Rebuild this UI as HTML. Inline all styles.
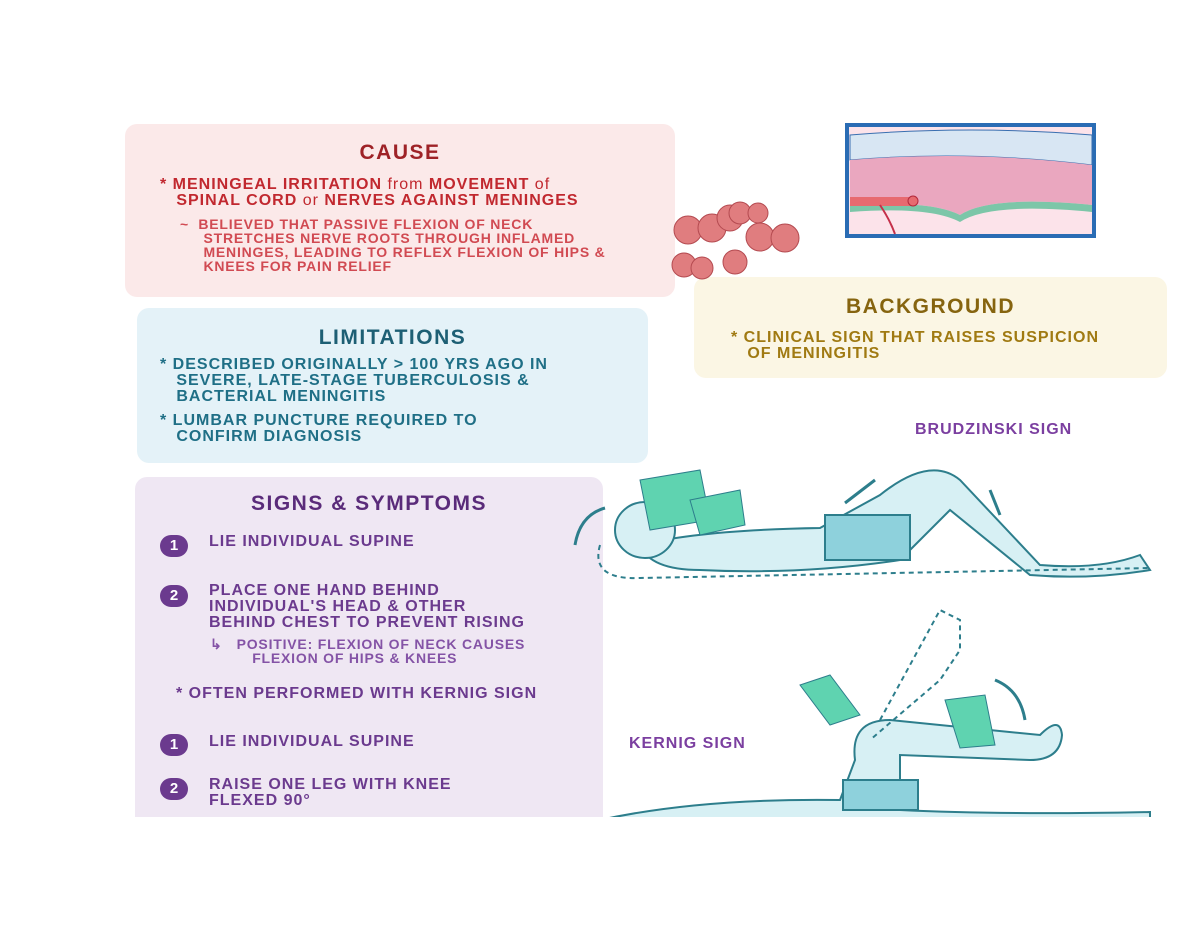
<!DOCTYPE html>
<html><head><style>
body{margin:0;width:1200px;height:927px;background:#fff;position:relative;overflow:hidden;font-family:"Liberation Sans",sans-serif;font-weight:bold;}
.box{position:absolute;border-radius:12px;}
.t{position:absolute;font-size:16px;line-height:16px;text-transform:uppercase;letter-spacing:1px;}
.h{position:absolute;font-size:21px;letter-spacing:1.5px;text-align:center;}
.n{position:absolute;width:28px;height:22px;border-radius:11px;background:#6b3a8e;color:#fff;font-size:15px;text-align:center;line-height:22px;}
</style></head><body>
<div class="box" style="left:125px;top:124px;width:550px;height:173px;background:#fbe9e9"></div>
<div class="h" style="left:125px;top:141px;width:550px;color:#9e2227">CAUSE</div>
<div class="t" style="left:160px;top:177px;color:#c1282f">* Meningeal irritation <span style="font-weight:normal;text-transform:none">from</span> movement <span style="font-weight:normal;text-transform:none">of</span><br>&nbsp;&nbsp;&nbsp;spinal cord <span style="font-weight:normal;text-transform:none">or</span> nerves against meninges</div>
<div class="t" style="left:180px;top:217px;color:#d14a52;font-size:14px;line-height:14px;letter-spacing:0.8px">~&nbsp;&nbsp;believed that passive flexion of neck<br>&nbsp;&nbsp;&nbsp;&nbsp;&nbsp;stretches nerve roots through inflamed<br>&nbsp;&nbsp;&nbsp;&nbsp;&nbsp;meninges, leading to reflex flexion of hips &amp;<br>&nbsp;&nbsp;&nbsp;&nbsp;&nbsp;knees for pain relief</div>

<div class="box" style="left:137px;top:308px;width:511px;height:155px;background:#e4f2f8"></div>
<div class="h" style="left:137px;top:326px;width:511px;color:#1d5f74">LIMITATIONS</div>
<div class="t" style="left:160px;top:357px;color:#1f6f86">* Described originally &gt; 100 yrs ago in<br>&nbsp;&nbsp;&nbsp;severe, late-stage tuberculosis &amp;<br>&nbsp;&nbsp;&nbsp;bacterial meningitis</div>
<div class="t" style="left:160px;top:413px;color:#1f6f86">* Lumbar puncture required to<br>&nbsp;&nbsp;&nbsp;confirm diagnosis</div>

<div class="box" style="left:135px;top:477px;width:468px;height:360px;background:#efe7f3"></div>
<div class="h" style="left:135px;top:492px;width:468px;color:#5a2b7a">SIGNS &amp; SYMPTOMS</div>
<div class="n" style="left:160px;top:535px">1</div>
<div class="t" style="left:209px;top:534px;color:#6b3a8e">Lie individual supine</div>
<div class="n" style="left:160px;top:585px">2</div>
<div class="t" style="left:209px;top:583px;color:#6b3a8e">Place one hand behind<br>individual's head &amp; other<br>behind chest to prevent rising</div>
<div class="t" style="left:210px;top:637px;color:#8453a6;font-size:14px;line-height:14px;letter-spacing:0.8px">↳&nbsp;&nbsp;&nbsp;positive: flexion of neck causes<br>&nbsp;&nbsp;&nbsp;&nbsp;&nbsp;&nbsp;&nbsp;&nbsp;&nbsp;flexion of hips &amp; knees</div>
<div class="t" style="left:176px;top:686px;color:#6b3a8e">* Often performed with kernig sign</div>
<div class="n" style="left:160px;top:734px">1</div>
<div class="t" style="left:209px;top:734px;color:#6b3a8e">Lie individual supine</div>
<div class="n" style="left:160px;top:778px">2</div>
<div class="t" style="left:209px;top:777px;color:#6b3a8e">Raise one leg with knee<br>flexed 90°</div>

<div class="box" style="left:694px;top:277px;width:473px;height:101px;background:#fbf6e4"></div>
<div class="h" style="left:694px;top:295px;width:473px;color:#86640f">BACKGROUND</div>
<div class="t" style="left:731px;top:330px;color:#a07a12">* Clinical sign that raises suspicion<br>&nbsp;&nbsp;&nbsp;of meningitis</div>

<div style="position:absolute;left:0;top:817px;width:1200px;height:110px;background:#fff;z-index:5"></div>

<svg style="position:absolute;left:0;top:0" width="1200" height="927">
<rect x="847" y="125" width="247" height="111" fill="#fce3ea" stroke="#2a6cb4" stroke-width="4"/>
<path d="M850 135 Q970 125 1092 135 L1092 165 Q970 150 850 160Z" fill="#d8e6f3" stroke="#3a6fb0"/>
<path d="M850 160 Q970 150 1092 165 L1092 205 Q990 195 960 215 Q930 200 850 205Z" fill="#eaa7bf"/>
<path d="M850 205 Q930 200 960 215 Q990 195 1092 205 L1092 212 Q990 202 960 222 Q930 206 850 212Z" fill="#7cc6a8"/>
<rect x="850" y="197" width="63" height="9" fill="#e76a70"/>
<circle cx="913" cy="201" r="5" fill="#e76a70" stroke="#b2283b"/>
<path d="M880 205 Q890 220 895 234" stroke="#c5304a" fill="none" stroke-width="2"/>
<g fill="#e07d7f" stroke="#b44a50">
<circle cx="688" cy="230" r="14"/><circle cx="712" cy="228" r="14"/><circle cx="730" cy="218" r="13"/><circle cx="740" cy="213" r="11"/>
<circle cx="760" cy="237" r="14"/><circle cx="785" cy="238" r="14"/><circle cx="735" cy="262" r="12"/><circle cx="684" cy="265" r="12"/><circle cx="702" cy="268" r="11"/><circle cx="758" cy="213" r="10"/>
</g>
<text x="915" y="434" fill="#7b3fa0" font-family="Liberation Sans" font-weight="bold" font-size="16" letter-spacing="1">BRUDZINSKI SIGN</text>
<text x="629" y="748" fill="#7b3fa0" font-family="Liberation Sans" font-weight="bold" font-size="16" letter-spacing="1">KERNIG SIGN</text>
<g fill="#d7f0f4" stroke="#2d7e8c" stroke-width="2">
<path d="M640 545 Q700 530 820 528 L880 495 Q930 455 960 480 L1040 565 Q1100 570 1140 555 L1150 570 Q1090 580 1030 575 L950 510 L900 560 Q800 575 700 570 Q650 570 640 545Z"/>
<ellipse cx="645" cy="530" rx="30" ry="28"/>
<rect x="825" y="515" width="85" height="45" fill="#8ed1dc"/>
</g>
<path d="M600 545 Q590 580 640 578 L1150 568" stroke="#2d7e8c" stroke-dasharray="5 4" fill="none" stroke-width="2"/>
<path d="M640 480 L700 470 L710 520 L650 530Z" fill="#5fd3b0" stroke="#2d7e8c"/>
<path d="M690 500 L740 490 L745 525 L700 535Z" fill="#5fd3b0" stroke="#2d7e8c"/>
<path d="M575 545 Q580 515 605 508" stroke="#2d7e8c" fill="none" stroke-width="3"/>
<path d="M845 503 L875 480" stroke="#2d7e8c" fill="none" stroke-width="3"/>
<path d="M990 490 L1000 515" stroke="#2d7e8c" fill="none" stroke-width="3"/>
<g fill="#d7f0f4" stroke="#2d7e8c" stroke-width="2">
<path d="M600 820 Q700 798 840 800 L855 760 Q850 720 890 720 L1040 735 Q1060 715 1062 735 Q1060 760 1030 760 L900 755 L900 810 Q1000 815 1150 812 L1150 830 L600 830Z"/>
<rect x="843" y="780" width="75" height="30" fill="#8ed1dc"/>
</g>
<path d="M880 720 L940 610 L960 620 L960 650 L940 680 L870 740" stroke="#2d7e8c" stroke-dasharray="5 4" fill="none" stroke-width="2"/>
<path d="M800 685 L830 675 L860 715 L830 725Z" fill="#5fd3b0" stroke="#2d7e8c"/>
<path d="M945 700 L985 695 L995 745 L960 748Z" fill="#5fd3b0" stroke="#2d7e8c"/>
<path d="M1025 720 Q1020 690 995 680" stroke="#2d7e8c" fill="none" stroke-width="3"/>
</svg>
</body></html>
